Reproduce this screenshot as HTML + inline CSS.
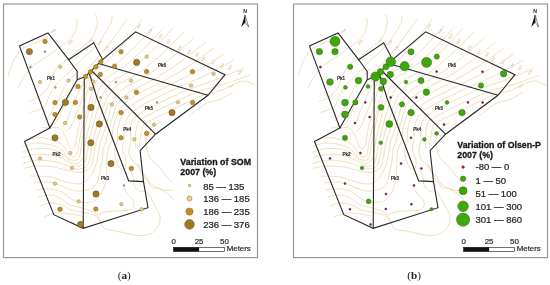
<!DOCTYPE html>
<html><head><meta charset="utf-8"><title>Figure</title>
<style>
html,body{margin:0;padding:0;background:#fff;}
body{width:550px;height:285px;overflow:hidden;position:relative;}
svg{display:block;position:absolute;left:0;top:0;}
</style></head><body>
<svg width="550" height="285" viewBox="0 0 550 285">
<rect width="550" height="285" fill="#fff"/>
<g transform="translate(0,0)">
<rect x="3.5" y="4" width="254" height="253.6" fill="#fff" stroke="#959595" stroke-width="1.15"/>
<g fill="none" stroke="#e3cd92" stroke-width="0.62">
<path d="M8.0,76.0 C8.7,74.0 10.5,67.5 12.0,64.0 C13.5,60.5 15.3,57.5 17.0,55.0 C18.7,52.5 19.5,50.8 22.0,49.0 C24.5,47.2 28.7,45.5 32.0,44.0 C35.3,42.5 39.3,41.5 42.0,40.0 C44.7,38.5 46.3,36.5 48.0,35.0 C49.7,33.5 51.3,31.7 52.0,31.0"/>
<path d="M77.0,18.0 C77.0,19.3 77.7,23.2 77.0,26.0 C76.3,28.8 74.5,32.5 73.0,35.0 C71.5,37.5 70.2,39.0 68.0,41.0 C65.8,43.0 63.2,44.7 60.0,47.0 C56.8,49.3 52.7,52.4 49.0,55.0 C45.3,57.6 41.2,60.1 38.0,62.4 C34.8,64.7 32.7,66.1 30.0,69.0 C27.3,71.9 24.0,76.8 22.0,80.0 C20.0,83.2 18.7,86.7 18.0,88.0"/>
<path d="M95.6,14.0 C95.9,15.3 97.5,19.0 97.4,22.0 C97.3,25.0 96.2,29.0 95.0,32.0 C93.8,35.0 92.5,37.2 90.0,40.0 C87.5,42.8 83.7,45.8 80.0,49.0 C76.3,52.2 71.7,56.2 68.0,59.0 C64.3,61.8 60.7,63.0 58.0,66.0 C55.3,69.0 53.7,73.4 52.0,77.0 C50.3,80.6 49.3,84.9 48.0,87.5 C46.7,90.1 45.7,90.9 44.0,92.6 C42.3,94.3 40.2,96.2 37.7,97.7 C35.2,99.2 30.3,100.9 28.8,101.5"/>
<path d="M112.0,16.0 C111.8,17.2 112.2,20.2 111.0,23.0 C109.8,25.8 106.8,30.0 105.0,33.0 C103.2,36.0 102.2,38.2 100.0,41.0 C97.8,43.8 95.0,47.0 92.0,50.0 C89.0,53.0 85.0,56.2 82.0,59.0 C79.0,61.8 77.0,64.0 74.0,67.0 C71.0,70.0 67.1,74.0 64.0,77.0 C60.9,80.0 57.4,82.8 55.5,85.0 C53.6,87.2 53.6,87.9 52.4,90.0 C51.2,92.1 49.7,95.1 48.5,97.7 C47.3,100.3 47.0,103.4 45.4,105.4 C43.8,107.4 41.6,108.6 39.0,109.8 C36.4,111.0 31.5,112.0 30.0,112.4"/>
<path d="M127.0,19.0 C125.8,20.7 122.5,25.5 120.0,29.0 C117.5,32.5 114.2,37.0 112.0,40.0 C109.8,43.0 109.0,44.5 107.0,47.0 C105.0,49.5 102.2,52.5 100.0,55.0 C97.8,57.5 96.7,59.2 94.0,62.0 C91.3,64.8 86.7,69.0 84.0,72.0 C81.3,75.0 79.6,77.8 78.0,80.0 C76.4,82.2 75.8,82.9 74.6,85.0 C73.4,87.1 72.1,90.0 70.8,92.6 C69.5,95.1 68.5,97.3 67.0,100.3 C65.5,103.3 63.7,107.0 62.0,110.5 C60.3,114.0 58.5,118.4 56.8,121.0 C55.1,123.6 52.8,125.2 52.0,126.0"/>
<path d="M80.0,68.0 C78.7,69.7 74.4,75.2 72.0,78.0 C69.6,80.8 67.2,83.0 65.7,85.0 C64.2,87.0 64.2,87.9 63.2,90.0 C62.2,92.1 60.9,94.9 59.4,97.7 C57.9,100.5 55.5,104.2 54.0,107.0 C52.5,109.8 52.2,112.0 50.5,114.3 C48.8,116.6 45.1,119.9 44.0,121.0"/>
<path d="M89.0,71.0 C88.3,72.5 86.3,77.2 85.0,80.0 C83.7,82.8 82.3,85.0 81.0,87.5 C79.7,90.0 78.5,92.5 77.2,95.2 C75.9,98.0 74.7,101.0 73.4,104.0 C72.1,107.0 70.6,110.2 69.5,113.0 C68.4,115.8 68.2,118.7 67.0,121.0 C65.8,123.3 62.8,126.0 62.0,127.0"/>
<path d="M92.0,69.0 C91.3,70.8 89.2,76.7 88.0,80.0 C86.8,83.3 85.6,86.0 84.8,88.8 C84.0,91.5 83.8,93.7 83.0,96.5 C82.2,99.3 80.9,102.4 79.7,105.4 C78.5,108.4 77.0,111.7 76.0,114.3 C75.0,116.9 74.4,118.7 73.4,121.0 C72.4,123.3 71.2,126.3 70.0,128.0 C68.8,129.7 66.7,130.5 66.0,131.0"/>
<path d="M142.0,19.4 C141.8,19.6 141.4,20.1 140.9,20.9 C140.3,21.6 139.6,22.6 138.7,23.9 C137.7,25.1 136.6,26.6 135.3,28.3 C134.0,30.1 132.4,32.3 130.8,34.3 C129.3,36.2 127.8,38.2 126.2,40.1 C124.7,42.0 123.1,43.9 121.5,45.8 C119.9,47.7 118.3,49.6 116.6,51.4 C114.9,53.3 113.1,55.2 111.6,56.9 C110.0,58.6 108.5,60.0 107.1,61.3 C105.7,62.7 104.3,63.8 103.1,64.8 C101.9,65.7 100.8,66.5 99.7,67.2 C98.7,67.8 97.8,67.6 96.9,68.5 C95.9,69.5 94.9,71.0 93.9,73.0 C92.9,75.0 91.8,77.5 90.8,80.5 C89.7,83.5 88.6,87.0 87.5,91.0 C86.4,95.0 85.1,100.5 84.1,104.6 C83.1,108.7 82.2,112.5 81.4,115.8 C80.6,119.1 79.9,122.1 79.3,124.6 C78.7,127.1 78.2,129.3 77.9,131.0 C77.5,132.7 77.3,133.8 77.1,135.0 C76.9,136.2 76.7,137.2 76.6,138.0 C76.4,138.8 76.3,139.5 76.2,140.0 C76.1,140.5 76.1,140.2 76.0,141.0 C75.9,141.8 76.2,143.2 75.6,144.6 C75.0,146.0 73.5,149.3 72.4,149.5 C71.3,149.7 70.0,147.6 69.0,146.0 C68.0,144.4 67.7,142.1 66.6,139.7 C65.5,137.3 64.1,133.5 62.6,131.5 C61.1,129.5 59.8,128.1 57.6,127.5 C55.4,126.9 52.2,128.0 49.5,128.0 C46.8,128.0 42.7,127.6 41.3,127.5"/>
<path d="M154.0,26.0 C153.8,26.2 153.4,26.7 152.8,27.4 C152.1,28.0 151.3,29.0 150.3,30.1 C149.3,31.2 148.0,32.6 146.6,34.2 C145.1,35.8 143.3,37.8 141.6,39.6 C140.0,41.4 138.3,43.2 136.6,45.0 C134.8,46.7 133.1,48.5 131.3,50.2 C129.6,51.9 127.8,53.6 126.0,55.2 C124.2,56.9 122.3,58.6 120.5,60.2 C118.8,61.7 117.1,63.1 115.4,64.3 C113.8,65.6 112.3,66.7 110.8,67.7 C109.3,68.7 107.9,69.6 106.6,70.3 C105.2,71.1 104.0,71.1 102.7,72.2 C101.5,73.2 100.2,74.8 99.0,76.7 C97.7,78.7 96.5,81.0 95.3,83.9 C94.1,86.7 92.9,90.0 91.7,93.7 C90.6,97.5 89.3,102.4 88.2,106.2 C87.2,110.1 86.2,113.5 85.4,116.6 C84.5,119.7 83.8,122.5 83.2,124.9 C82.6,127.3 82.0,129.3 81.6,131.0 C81.2,132.7 81.0,133.8 80.7,135.0 C80.4,136.2 80.2,137.2 80.0,138.0 C79.8,138.8 79.6,139.5 79.5,140.0 C79.4,140.5 79.7,138.9 79.3,141.0 C78.9,143.1 78.2,150.1 77.3,152.8 C76.4,155.5 75.4,156.6 74.0,157.0 C72.6,157.4 70.4,156.2 69.0,155.0 C67.6,153.8 67.1,151.4 65.8,149.5 C64.5,147.6 63.2,145.3 61.0,143.8 C58.8,142.3 56.3,141.6 52.7,140.5 C49.1,139.4 44.0,137.3 39.6,137.3 C35.2,137.3 28.7,140.0 26.5,140.5"/>
<path d="M163.0,28.6 C162.8,28.8 162.4,29.3 161.7,30.0 C161.1,30.6 160.3,31.5 159.2,32.7 C158.2,33.8 156.9,35.2 155.4,36.8 C154.0,38.3 152.1,40.4 150.4,42.2 C148.7,44.0 147.0,45.8 145.2,47.5 C143.5,49.3 141.7,51.0 139.9,52.7 C138.1,54.4 136.3,56.1 134.5,57.7 C132.7,59.4 130.8,61.1 128.9,62.6 C127.1,64.1 125.3,65.6 123.6,66.9 C121.8,68.2 120.1,69.4 118.4,70.5 C116.7,71.6 115.0,72.6 113.4,73.5 C111.7,74.4 110.1,74.7 108.6,75.8 C107.0,77.0 105.6,78.5 104.2,80.4 C102.8,82.4 101.5,84.6 100.3,87.3 C99.1,90.0 98.0,93.0 96.9,96.5 C95.8,99.9 94.8,104.4 93.9,107.9 C93.0,111.4 92.2,114.6 91.5,117.4 C90.7,120.3 90.1,122.9 89.5,125.1 C88.9,127.4 88.4,129.4 88.0,131.0 C87.6,132.6 87.3,133.8 87.0,135.0 C86.7,136.2 86.5,137.2 86.2,138.0 C86.0,138.8 85.9,139.5 85.8,140.0 C85.6,140.5 85.7,139.7 85.5,141.0 C85.3,142.3 85.1,144.9 84.6,148.0 C84.0,151.1 83.4,156.8 82.2,159.4 C81.0,162.0 79.2,163.1 77.3,163.5 C75.4,163.9 72.9,163.2 70.7,161.8 C68.5,160.4 67.2,157.4 64.2,155.3 C61.2,153.2 57.3,150.6 52.7,149.5 C48.1,148.4 41.4,148.3 36.4,148.7 C31.4,149.1 24.8,151.4 22.5,152.0"/>
<path d="M173.0,28.0 C172.8,28.2 172.3,28.7 171.7,29.5 C171.0,30.2 170.2,31.1 169.1,32.4 C168.0,33.6 166.7,35.0 165.1,36.7 C163.6,38.4 161.7,40.6 159.9,42.5 C158.1,44.5 156.3,46.3 154.5,48.2 C152.7,50.1 150.9,51.9 149.0,53.8 C147.1,55.6 145.3,57.4 143.3,59.2 C141.4,61.0 139.5,62.8 137.6,64.5 C135.6,66.1 133.7,67.7 131.8,69.1 C129.9,70.6 127.9,72.0 126.0,73.2 C124.1,74.5 122.1,75.6 120.2,76.6 C118.3,77.7 116.2,78.2 114.4,79.5 C112.6,80.7 110.9,82.3 109.3,84.2 C107.6,86.1 106.1,88.2 104.7,90.7 C103.3,93.2 102.1,96.1 100.9,99.2 C99.7,102.3 98.6,106.3 97.6,109.5 C96.7,112.7 95.8,115.6 95.0,118.3 C94.2,120.9 93.5,123.3 93.0,125.4 C92.4,127.5 91.9,129.4 91.5,131.0 C91.1,132.6 90.9,133.8 90.6,135.0 C90.4,136.2 90.1,137.2 90.0,138.0 C89.8,138.8 89.6,139.5 89.5,140.0 C89.4,140.5 89.7,138.9 89.3,141.0 C88.9,143.1 87.8,149.2 87.0,152.8 C86.2,156.4 85.9,160.4 84.6,162.6 C83.3,164.8 81.0,165.6 79.0,166.0 C77.0,166.4 74.9,166.1 72.4,165.0 C69.9,163.9 67.5,161.0 64.2,159.4 C60.9,157.8 57.3,156.1 52.7,155.3 C48.1,154.5 41.4,154.1 36.4,154.5 C31.4,154.9 24.8,157.2 22.5,157.7"/>
<path d="M184.0,32.0 C183.8,32.2 183.3,32.7 182.6,33.4 C181.9,34.1 181.0,35.1 179.8,36.2 C178.6,37.4 177.2,38.8 175.6,40.4 C174.0,42.1 171.9,44.2 170.0,46.1 C168.1,47.9 166.2,49.8 164.3,51.6 C162.4,53.4 160.4,55.2 158.4,56.9 C156.5,58.7 154.5,60.4 152.5,62.1 C150.4,63.9 148.4,65.6 146.4,67.2 C144.3,68.8 142.2,70.4 140.1,71.9 C138.0,73.3 135.8,74.7 133.6,76.1 C131.5,77.4 129.3,78.6 127.0,79.8 C124.8,81.0 122.4,81.8 120.2,83.1 C118.1,84.5 116.2,86.1 114.3,87.9 C112.5,89.7 110.9,91.8 109.3,94.2 C107.8,96.5 106.4,99.1 105.2,101.9 C103.9,104.8 102.9,108.3 101.9,111.2 C100.9,114.0 100.0,116.7 99.2,119.1 C98.4,121.5 97.7,123.7 97.0,125.7 C96.4,127.7 95.9,129.4 95.4,131.0 C95.0,132.6 94.7,133.8 94.4,135.0 C94.1,136.2 93.8,137.2 93.6,138.0 C93.4,138.8 93.2,139.5 93.1,140.0 C92.9,140.5 93.2,138.6 92.8,141.0 C92.4,143.4 91.2,150.6 90.4,154.5 C89.6,158.4 89.4,162.0 88.0,164.3 C86.6,166.6 84.5,167.7 82.2,168.4 C79.9,169.1 77.0,169.1 74.0,168.4 C71.0,167.7 67.8,165.5 64.2,164.3 C60.7,163.1 57.3,162.0 52.7,161.3 C48.1,160.6 41.4,159.8 36.4,160.2 C31.4,160.6 24.8,162.9 22.5,163.5"/>
<path d="M195.0,37.0 C194.8,37.2 194.3,37.7 193.5,38.3 C192.8,39.0 191.8,39.9 190.5,41.0 C189.3,42.1 187.8,43.4 186.1,45.0 C184.3,46.5 182.1,48.6 180.1,50.3 C178.1,52.1 176.1,53.8 174.1,55.5 C172.0,57.2 169.9,58.9 167.9,60.5 C165.8,62.2 163.7,63.8 161.6,65.4 C159.4,67.0 157.3,68.6 155.1,70.2 C152.9,71.7 150.7,73.2 148.4,74.7 C146.1,76.1 143.7,77.5 141.3,78.9 C138.9,80.3 136.4,81.7 133.9,83.0 C131.3,84.3 128.4,85.3 126.1,86.8 C123.7,88.2 121.6,89.8 119.8,91.6 C117.9,93.4 116.3,95.4 114.9,97.6 C113.6,99.8 112.4,102.1 111.5,104.7 C110.7,107.2 110.2,110.3 109.6,112.8 C109.0,115.3 108.4,117.7 107.8,119.9 C107.2,122.1 106.6,124.1 106.0,126.0 C105.5,127.8 104.9,129.5 104.4,131.0 C103.8,132.5 103.3,133.8 102.8,135.0 C102.4,136.2 102.0,137.2 101.7,138.0 C101.3,138.8 101.1,139.5 100.9,140.0 C100.7,140.5 100.8,139.2 100.5,141.0 C100.2,142.8 99.6,147.4 99.0,150.7 C98.4,154.0 97.9,157.6 97.0,161.0 C96.1,164.4 94.9,168.2 93.6,171.0 C92.3,173.8 90.6,176.2 89.0,178.0 C87.4,179.8 85.8,181.0 84.0,182.0 C82.2,183.0 81.0,184.0 78.0,184.0 C75.0,184.0 70.7,183.2 66.0,182.0 C61.3,180.8 56.0,178.0 50.0,177.0 C44.0,176.0 33.3,176.2 30.0,176.0"/>
<path d="M206.0,42.0 C205.7,42.2 205.2,42.6 204.4,43.3 C203.6,43.9 202.6,44.7 201.3,45.8 C200.0,46.8 198.4,48.1 196.5,49.5 C194.7,51.0 192.4,52.9 190.2,54.5 C188.1,56.2 186.0,57.8 183.8,59.4 C181.7,61.0 179.5,62.6 177.3,64.1 C175.1,65.7 172.9,67.2 170.7,68.7 C168.4,70.2 166.2,71.6 163.9,73.1 C161.6,74.6 159.2,76.0 156.7,77.5 C154.2,78.9 151.6,80.4 148.9,81.8 C146.3,83.3 143.5,84.7 140.7,86.1 C137.9,87.6 134.6,88.9 131.9,90.4 C129.3,91.9 126.9,93.6 124.8,95.4 C122.7,97.1 120.9,99.0 119.4,101.0 C117.8,103.0 116.5,105.2 115.5,107.4 C114.5,109.6 114.0,112.2 113.3,114.4 C112.6,116.7 112.0,118.7 111.4,120.7 C110.8,122.7 110.3,124.5 109.8,126.2 C109.3,128.0 108.9,129.5 108.5,131.0 C108.1,132.5 107.8,133.8 107.5,135.0 C107.2,136.2 107.0,137.2 106.8,138.0 C106.5,138.8 106.4,139.5 106.2,140.0 C106.1,140.5 106.5,139.4 106.0,141.0 C105.5,142.6 103.6,146.7 103.0,149.5 C102.4,152.3 103.1,154.1 102.6,157.7 C102.1,161.3 100.8,167.3 100.0,171.0 C99.2,174.7 99.0,177.3 98.0,180.0 C97.0,182.7 96.0,185.3 94.0,187.0 C92.0,188.7 89.0,189.3 86.0,190.0 C83.0,190.7 79.7,191.5 76.0,191.0 C72.3,190.5 68.3,188.5 64.0,187.0 C59.7,185.5 55.0,182.7 50.0,182.0 C45.0,181.3 36.7,182.8 34.0,183.0"/>
<path d="M214.0,48.0 C213.7,48.2 213.2,48.6 212.4,49.1 C211.6,49.7 210.6,50.5 209.3,51.4 C208.0,52.4 206.4,53.5 204.6,54.9 C202.7,56.2 200.4,57.9 198.3,59.5 C196.2,61.0 194.1,62.4 191.9,63.9 C189.8,65.3 187.6,66.7 185.4,68.1 C183.2,69.5 181.0,70.9 178.8,72.3 C176.6,73.6 174.5,74.9 172.1,76.2 C169.8,77.6 167.3,78.9 164.7,80.4 C162.1,81.8 159.3,83.2 156.5,84.7 C153.6,86.2 150.6,87.7 147.5,89.3 C144.4,90.8 140.7,92.4 137.8,94.0 C134.8,95.7 132.2,97.4 129.8,99.1 C127.5,100.8 125.5,102.6 123.7,104.5 C122.0,106.3 120.5,108.2 119.4,110.1 C118.2,112.1 117.6,114.2 116.8,116.1 C116.1,118.0 115.4,119.8 114.8,121.5 C114.3,123.3 113.8,124.9 113.4,126.5 C113.1,128.1 112.8,129.6 112.6,131.0 C112.4,132.4 112.4,133.8 112.4,135.0 C112.3,136.2 112.2,137.2 112.2,138.0 C112.1,138.8 112.1,139.5 112.1,140.0 C112.0,140.5 112.6,139.7 112.0,141.0 C111.4,142.3 109.3,145.3 108.5,148.0 C107.7,150.7 107.3,153.2 107.0,157.0 C106.7,160.8 106.9,167.2 106.7,171.0 C106.5,174.8 106.6,176.8 106.0,180.0 C105.4,183.2 104.3,187.0 103.0,190.0 C101.7,193.0 100.2,196.0 98.0,198.0 C95.8,200.0 93.3,201.3 90.0,202.0 C86.7,202.7 81.3,202.7 78.0,202.0 C74.7,201.3 72.7,199.7 70.0,198.0 C67.3,196.3 65.3,193.5 62.0,192.0 C58.7,190.5 54.3,189.3 50.0,189.0 C45.7,188.7 38.3,189.8 36.0,190.0"/>
<path d="M244.0,68.0 C243.7,68.1 243.1,68.4 242.3,68.8 C241.4,69.1 240.2,69.6 238.8,70.3 C237.3,70.9 235.6,71.7 233.5,72.5 C231.5,73.4 228.9,74.6 226.5,75.6 C224.2,76.6 221.8,77.5 219.5,78.4 C217.1,79.4 214.7,80.2 212.3,81.1 C209.9,82.0 207.6,82.8 205.1,83.6 C202.7,84.4 200.5,85.0 197.9,85.9 C195.2,86.9 192.4,88.0 189.3,89.2 C186.2,90.5 182.9,91.9 179.3,93.5 C175.8,95.1 172.0,96.8 168.0,98.8 C164.0,100.7 159.1,103.0 155.3,105.0 C151.6,106.9 148.3,108.7 145.4,110.3 C142.6,111.9 140.2,113.4 138.3,114.8 C136.4,116.1 134.9,117.3 133.9,118.3 C132.9,119.4 132.8,120.0 132.4,121.0 C131.9,121.9 131.5,122.9 131.2,124.0 C130.9,125.1 130.7,126.2 130.6,127.3 C130.4,128.5 130.4,129.7 130.4,131.0 C130.4,132.3 130.6,133.8 130.6,135.0 C130.7,136.2 130.8,137.2 130.8,138.0 C130.9,138.8 130.9,139.5 130.9,140.0 C131.0,140.5 131.4,139.2 131.0,141.0 C130.6,142.8 128.9,147.8 128.8,150.7 C128.8,153.6 129.3,156.1 130.7,158.4 C132.1,160.7 135.3,162.4 137.0,164.7 C138.7,167.0 139.5,170.1 141.0,172.0 C142.5,173.9 144.3,174.0 146.0,176.0 C147.7,178.0 148.2,181.7 151.0,184.0 C153.8,186.3 159.3,189.0 163.0,190.0 C166.7,191.0 171.3,190.0 173.0,190.0"/>
<path d="M250.0,75.0 C249.7,75.1 249.2,75.3 248.3,75.6 C247.5,75.9 246.4,76.3 245.0,76.8 C243.6,77.4 241.9,78.0 239.9,78.7 C237.9,79.4 235.4,80.4 233.2,81.2 C230.9,82.0 228.7,82.7 226.4,83.5 C224.1,84.2 221.9,84.9 219.6,85.6 C217.3,86.2 215.0,86.9 212.7,87.5 C210.4,88.1 208.3,88.4 205.7,89.2 C203.1,90.0 200.3,91.0 197.1,92.2 C193.9,93.4 190.5,94.8 186.8,96.5 C183.1,98.1 179.1,99.9 174.8,101.9 C170.5,103.9 165.2,106.6 161.2,108.6 C157.1,110.6 153.6,112.4 150.7,114.0 C147.7,115.6 145.2,117.0 143.3,118.2 C141.4,119.3 140.0,120.3 139.1,121.0 C138.2,121.8 138.4,122.0 138.1,122.6 C137.7,123.3 137.4,124.0 137.2,124.8 C136.9,125.6 136.7,126.6 136.4,127.6 C136.2,128.6 136.0,129.8 135.9,131.0 C135.7,132.2 135.6,133.8 135.4,135.0 C135.3,136.2 135.2,137.2 135.1,138.0 C135.0,138.8 135.0,139.5 134.9,140.0 C134.9,140.5 134.6,139.7 134.8,141.0 C135.0,142.3 135.8,146.8 136.0,148.0"/>
<path d="M256.0,85.5 C255.9,85.5 255.8,85.4 255.6,85.3 C255.4,85.2 255.2,85.1 254.9,84.9 C254.6,84.8 254.2,84.6 253.8,84.4 C253.3,84.2 252.8,83.9 252.2,83.6 C251.7,83.4 251.2,83.2 250.7,82.9 C250.2,82.7 249.6,82.5 249.1,82.3 C248.5,82.1 247.9,81.9 247.4,81.8 C246.8,81.6 246.2,81.4 245.6,81.2 C245.0,81.1 244.5,81.1 243.9,81.0 C243.3,81.0 242.7,81.0 242.1,81.1 C241.5,81.2 241.0,81.3 240.4,81.4 C239.8,81.6 239.2,81.8 238.6,82.1 C238.0,82.3 237.4,82.6 236.8,82.8 C236.1,83.1 235.4,83.4 234.8,83.8 C234.1,84.1 233.4,84.5 232.6,84.9 C231.9,85.3 231.1,85.7 230.4,86.1 C229.6,86.5 228.8,86.9 228.0,87.3 C227.2,87.7 226.4,88.1 225.5,88.4 C224.6,88.8 223.8,89.2 222.9,89.5 C222.0,89.8 221.1,90.2 220.1,90.5 C219.2,90.8 218.2,91.1 217.3,91.4 C216.3,91.7 215.4,91.9 214.4,92.2 C213.4,92.4 212.4,92.7 211.4,92.9 C210.3,93.1 209.8,93.0 208.2,93.4 C206.7,93.9 204.7,94.6 202.3,95.7 C199.8,96.7 196.8,98.0 193.4,99.5 C190.0,101.1 186.0,103.0 181.6,105.1 C177.2,107.2 171.3,110.1 167.0,112.3 C162.7,114.4 159.0,116.2 155.9,117.8 C152.8,119.3 150.3,120.6 148.3,121.6 C146.4,122.6 145.0,123.3 144.3,123.8 C143.5,124.2 143.9,124.0 143.8,124.3 C143.6,124.6 143.4,125.0 143.2,125.6 C143.0,126.2 142.7,127.0 142.5,127.9 C142.3,128.8 142.0,129.8 141.8,131.0 C141.5,132.2 141.2,133.8 140.9,135.0 C140.7,136.2 140.5,137.2 140.3,138.0 C140.1,138.8 140.0,139.5 139.9,140.0 C139.8,140.5 139.8,139.8 139.7,141.0 C139.6,142.2 139.5,146.0 139.5,147.0"/>
<path d="M224.0,54.0 C223.7,54.2 223.2,54.5 222.4,55.0 C221.6,55.6 220.5,56.2 219.1,57.1 C217.8,58.0 216.1,59.0 214.2,60.2 C212.3,61.4 209.9,63.0 207.7,64.4 C205.5,65.7 203.3,67.0 201.1,68.4 C198.9,69.7 196.7,70.9 194.4,72.2 C192.2,73.4 189.9,74.6 187.6,75.8 C185.3,77.0 183.2,78.1 180.7,79.3 C178.3,80.6 175.7,81.9 172.9,83.3 C170.1,84.6 167.2,86.1 164.1,87.6 C161.0,89.2 157.7,90.8 154.3,92.4 C150.9,94.1 146.9,96.0 143.6,97.7 C140.4,99.4 137.5,101.1 135.0,102.8 C132.4,104.5 130.2,106.2 128.4,107.9 C126.5,109.6 125.0,111.2 123.8,112.8 C122.6,114.5 122.0,116.1 121.3,117.7 C120.5,119.3 119.9,120.8 119.4,122.4 C118.9,123.9 118.5,125.3 118.1,126.8 C117.8,128.2 117.6,129.6 117.5,131.0 C117.4,132.4 117.6,133.8 117.6,135.0 C117.6,136.2 117.6,137.2 117.6,138.0 C117.6,138.8 117.6,139.5 117.6,140.0 C117.6,140.5 117.9,140.1 117.6,141.0 C117.3,141.9 116.0,143.3 115.5,145.6 C115.0,147.8 114.5,151.5 114.8,154.5 C115.1,157.5 116.4,161.1 117.4,163.5 C118.4,165.9 119.7,168.2 121.0,169.0 C122.3,169.8 124.2,170.0 125.0,168.5 C125.8,167.0 126.4,162.9 126.0,160.0 C125.6,157.1 123.0,153.5 122.5,151.0 C122.0,148.5 122.5,146.7 122.8,145.0 C123.1,143.3 124.0,141.8 124.2,141.0 C124.4,140.2 124.2,140.5 124.2,140.0 C124.2,139.5 124.2,138.8 124.2,138.0 C124.2,137.2 124.1,136.2 124.1,135.0 C124.1,133.8 124.0,132.3 124.1,131.0 C124.1,129.7 124.3,128.4 124.5,127.1 C124.8,125.8 125.1,124.5 125.5,123.2 C125.9,121.9 126.4,120.6 127.0,119.3 C127.5,118.1 127.9,116.9 129.0,115.6 C130.0,114.2 131.5,112.8 133.4,111.3 C135.2,109.8 137.5,108.2 140.2,106.6 C142.9,104.9 146.0,103.2 149.5,101.3 C153.0,99.5 157.5,97.4 161.2,95.6 C164.9,93.8 168.4,92.1 171.7,90.5 C175.0,89.0 178.1,87.5 181.1,86.2 C184.0,84.8 186.8,83.6 189.3,82.4 C191.9,81.3 194.0,80.4 196.4,79.4 C198.7,78.4 201.1,77.3 203.4,76.2 C205.7,75.1 208.0,74.0 210.3,72.8 C212.6,71.7 214.9,70.5 217.1,69.3 C219.4,68.1 221.9,66.7 223.9,65.6 C225.8,64.5 227.5,63.6 228.9,62.8 C230.3,62.0 231.5,61.4 232.3,60.9 C233.2,60.5 233.7,60.2 234.0,60.0"/>
<path d="M93.0,100.0 C92.2,102.0 89.8,107.8 88.5,112.0 C87.2,116.2 86.6,120.2 85.5,125.0 C84.4,129.8 83.0,135.8 82.0,141.0 C81.0,146.2 80.8,152.8 79.7,156.0 C78.6,159.2 77.4,159.8 75.6,160.2 C73.8,160.6 71.2,160.1 69.0,158.6 C66.8,157.1 65.3,153.4 62.6,151.2 C59.9,149.0 57.1,146.9 52.7,145.5 C48.3,144.1 41.3,142.9 36.4,143.0 C31.5,143.1 25.5,145.8 23.3,146.3"/>
<path d="M109.0,102.0 C108.2,104.0 105.7,110.2 104.5,114.0 C103.3,117.8 103.2,120.5 101.8,125.0 C100.4,129.5 97.7,135.8 96.3,141.0 C94.9,146.2 94.4,151.8 93.6,156.0 C92.8,160.2 92.5,163.5 91.2,166.0 C89.9,168.5 87.7,169.9 85.5,171.0 C83.3,172.1 80.5,172.5 78.0,172.5 C75.5,172.5 73.3,171.6 70.7,171.0 C68.1,170.4 65.6,169.9 62.6,169.2 C59.6,168.5 57.1,167.2 52.7,166.7 C48.3,166.2 41.3,165.7 36.4,166.0 C31.5,166.3 25.5,168.0 23.3,168.4"/>
<path d="M160.0,122.5 C158.8,123.2 155.0,125.1 153.0,127.0 C151.0,128.9 149.2,131.7 148.0,134.0 C146.8,136.3 146.1,139.0 145.8,141.0 C145.5,143.0 145.8,143.8 146.2,146.0 C146.6,148.2 147.3,151.8 148.5,154.5 C149.7,157.2 151.7,159.9 153.6,162.0 C155.5,164.1 158.1,165.1 160.0,167.3 C161.9,169.5 163.0,172.6 165.0,175.0 C167.0,177.4 170.8,180.8 172.0,182.0"/>
<path d="M232.0,92.5 C230.0,93.7 224.0,97.8 220.0,99.5 C216.0,101.2 211.7,100.9 208.0,102.5 C204.3,104.1 201.2,106.8 198.0,109.0 C194.8,111.2 190.5,114.8 189.0,116.0"/>
<path d="M128.0,167.0 C128.5,167.8 130.1,170.2 131.0,172.0 C131.9,173.8 132.8,175.8 133.3,178.0 C133.8,180.2 133.1,182.8 134.0,185.0 C134.9,187.2 137.2,190.0 139.0,191.0 C140.8,192.0 143.3,190.3 145.0,191.0 C146.7,191.7 147.9,193.4 149.3,195.4 C150.7,197.4 152.2,200.4 153.6,203.0 C155.0,205.6 156.9,208.7 158.0,211.0 C159.1,213.3 159.8,214.8 160.0,217.0 C160.2,219.2 160.2,221.5 159.0,224.0 C157.8,226.5 155.7,230.1 153.0,232.0 C150.3,233.9 147.0,235.3 143.0,235.6 C139.0,235.9 133.3,234.8 129.0,234.0 C124.7,233.2 121.0,231.8 117.0,231.0 C113.0,230.2 107.7,230.5 105.0,229.0 C102.3,227.5 102.3,224.4 101.0,222.0 C99.7,219.6 98.8,216.4 97.0,214.5 C95.2,212.6 92.5,211.6 90.0,210.5 C87.5,209.4 85.3,208.9 82.0,208.0 C78.7,207.1 73.7,206.7 70.0,205.0 C66.3,203.3 63.3,199.7 60.0,198.0 C56.7,196.3 53.7,195.2 50.0,195.0 C46.3,194.8 40.0,196.7 38.0,197.0"/>
<path d="M138.0,164.0 C138.7,165.3 140.8,169.7 142.0,172.0 C143.2,174.3 143.8,176.1 145.0,178.0 C146.2,179.9 148.1,182.0 149.3,183.7 C150.5,185.4 150.8,187.3 152.2,188.0 C153.6,188.7 155.8,187.2 158.0,188.0 C160.2,188.8 162.6,190.6 165.3,192.5 C168.0,194.4 172.6,198.5 174.0,199.7"/>
<path d="M123.0,186.6 C123.8,187.8 125.8,191.8 127.5,194.0 C129.2,196.2 131.9,198.0 133.0,200.0 C134.1,202.0 134.7,204.3 134.0,206.0 C133.3,207.7 132.2,209.2 129.0,210.0 C125.8,210.8 119.0,210.7 115.0,211.0 C111.0,211.3 107.7,211.3 105.0,212.0 C102.3,212.7 100.0,214.5 99.0,215.0"/>
<path d="M40.0,206.0 C41.7,205.5 46.3,203.2 50.0,203.0 C53.7,202.8 58.3,203.8 62.0,205.0 C65.7,206.2 68.0,208.7 72.0,210.0 C76.0,211.3 82.0,212.0 86.0,213.0 C90.0,214.0 93.7,214.5 96.0,216.0 C98.3,217.5 99.3,221.0 100.0,222.0"/>
<path d="M44.0,217.0 C46.0,216.3 51.7,213.5 56.0,213.0 C60.3,212.5 65.7,213.5 70.0,214.0 C74.3,214.5 80.0,215.7 82.0,216.0"/>
</g>
<g font-family="Liberation Sans, sans-serif" font-size="3.2" fill="#cfa352" stroke="#fff" stroke-width="0.9" paint-order="stroke" text-anchor="middle">
<text transform="translate(53.4,30.9) rotate(-40)" y="1.1">544</text>
<text transform="translate(70.3,42.1) rotate(-50)" y="1.1">543</text>
<text transform="translate(89.9,40.8) rotate(-45)" y="1.1">540</text>
<text transform="translate(99.8,42.4) rotate(-50)" y="1.1">539</text>
<text transform="translate(106.2,48.1) rotate(-50)" y="1.1">538</text>
<text transform="translate(139,26) rotate(-55)" y="1.1">537</text>
<text transform="translate(150,31) rotate(-55)" y="1.1">536</text>
<text transform="translate(160.5,36.5) rotate(-58)" y="1.1">535</text>
<text transform="translate(168.5,41.5) rotate(-60)" y="1.1">534</text>
<text transform="translate(179.5,48) rotate(-60)" y="1.1">533</text>
<text transform="translate(189,52) rotate(-62)" y="1.1">532</text>
<text transform="translate(197,54.5) rotate(-62)" y="1.1">531</text>
<text transform="translate(203,59) rotate(-62)" y="1.1">530</text>
<text transform="translate(213,62) rotate(-60)" y="1.1">529</text>
<text transform="translate(222,66) rotate(-58)" y="1.1">528</text>
<text transform="translate(230,67.5) rotate(-50)" y="1.1">527</text>
<text transform="translate(240,72) rotate(-45)" y="1.1">525</text>
<text transform="translate(231,85.8) rotate(-30)" y="1.1">521</text>
</g>
<g fill="none" stroke="#262626" stroke-width="1.1" stroke-linejoin="miter">
<path d="M19.4,45.9 L48,33 L68.65,59.7 L93.7,42.8 L102.6,59.7 L135.6,31.8 L225,74.7 L208,95.3 L155.5,134.2 L140.1,150.7 L143.5,181.6 L148,207.7 L83.2,228.3 L53.8,214.7 L24.5,141.4 L49.9,128.1 Z"/>
<path d="M68.65,59.7 L77.2,71.5 L77.2,79.7 L49.9,128.1"/>
<path d="M77.2,79.7 L85.5,76.5 L102.6,59.7"/>
<path d="M84.3,77 L83.2,228.3"/>
<path d="M89.3,73.5 L97,98 L128.7,180.9 L143.5,181.6"/>
<path d="M92,71 L155.5,134.2"/>
<path d="M98.5,63.5 L208,95.3"/>
</g>
<g font-family="Liberation Sans, sans-serif" font-weight="bold" font-size="4.5" fill="#1a1a1a" stroke="#1a1a1a" stroke-width="0.08" text-anchor="middle">
<text x="51" y="79.7">Pk1</text>
<text x="56.5" y="155.5">Pk2</text>
<text x="105" y="180.2">Pk3</text>
<text x="127.2" y="131">Pk4</text>
<text x="149" y="110">Pk5</text>
<text x="162" y="66.5">Pk6</text>
</g>
<g stroke-width="0.5">
<circle cx="29.4" cy="51.6" r="3.15" fill="#a07a22" stroke="#64491a"/>
<circle cx="45" cy="41.4" r="2.25" fill="#c48e22" stroke="#86601c"/>
<circle cx="45" cy="51.6" r="0.95" fill="#b9a57c" stroke="#857552"/>
<circle cx="30.4" cy="67" r="0.95" fill="#b9a57c" stroke="#857552"/>
<circle cx="60.2" cy="66.8" r="1.65" fill="#f0cf84" stroke="#8f6f3a"/>
<circle cx="40" cy="82" r="1.65" fill="#f0cf84" stroke="#8f6f3a"/>
<circle cx="68.5" cy="80.6" r="1.65" fill="#f0cf84" stroke="#8f6f3a"/>
<circle cx="55.4" cy="87.4" r="0.95" fill="#b9a57c" stroke="#857552"/>
<circle cx="78" cy="86.5" r="2.25" fill="#c48e22" stroke="#86601c"/>
<circle cx="55" cy="102.6" r="2.25" fill="#c48e22" stroke="#86601c"/>
<circle cx="65.4" cy="102.4" r="3.15" fill="#a07a22" stroke="#64491a"/>
<circle cx="75.4" cy="102.4" r="2.25" fill="#c48e22" stroke="#86601c"/>
<circle cx="85.5" cy="76.6" r="2.25" fill="#c48e22" stroke="#86601c"/>
<circle cx="90.5" cy="71.8" r="2.25" fill="#c48e22" stroke="#86601c"/>
<circle cx="95.9" cy="66.8" r="2.25" fill="#c48e22" stroke="#86601c"/>
<circle cx="100.8" cy="61.8" r="2.25" fill="#c48e22" stroke="#86601c"/>
<circle cx="100.3" cy="74.5" r="2.25" fill="#c48e22" stroke="#86601c"/>
<circle cx="93.3" cy="81.4" r="1.65" fill="#f0cf84" stroke="#8f6f3a"/>
<circle cx="91" cy="88.8" r="1.65" fill="#f0cf84" stroke="#8f6f3a"/>
<circle cx="100.6" cy="97.4" r="0.95" fill="#b9a57c" stroke="#857552"/>
<circle cx="91" cy="107.4" r="3.15" fill="#a07a22" stroke="#64491a"/>
<circle cx="121" cy="51.8" r="2.25" fill="#c48e22" stroke="#86601c"/>
<circle cx="146.8" cy="56.6" r="1.65" fill="#f0cf84" stroke="#8f6f3a"/>
<circle cx="136.6" cy="62.4" r="3.15" fill="#a07a22" stroke="#64491a"/>
<circle cx="146.6" cy="71.6" r="2.25" fill="#c48e22" stroke="#86601c"/>
<circle cx="192.5" cy="71.7" r="2.25" fill="#c48e22" stroke="#86601c"/>
<circle cx="213.6" cy="73.8" r="1.65" fill="#f0cf84" stroke="#8f6f3a"/>
<circle cx="191" cy="85.5" r="1.65" fill="#f0cf84" stroke="#8f6f3a"/>
<circle cx="114.6" cy="66.2" r="2.25" fill="#c48e22" stroke="#86601c"/>
<circle cx="116" cy="82.1" r="0.95" fill="#b9a57c" stroke="#857552"/>
<circle cx="131" cy="80.6" r="1.65" fill="#f0cf84" stroke="#8f6f3a"/>
<circle cx="136.4" cy="92.2" r="2.25" fill="#c48e22" stroke="#86601c"/>
<circle cx="126.4" cy="97.4" r="1.65" fill="#f0cf84" stroke="#8f6f3a"/>
<circle cx="112" cy="104.3" r="1.65" fill="#f0cf84" stroke="#8f6f3a"/>
<circle cx="157" cy="102.4" r="0.95" fill="#b9a57c" stroke="#857552"/>
<circle cx="178" cy="102.4" r="1.65" fill="#f0cf84" stroke="#8f6f3a"/>
<circle cx="192.6" cy="102.5" r="2.25" fill="#c48e22" stroke="#86601c"/>
<circle cx="55" cy="114.5" r="2.25" fill="#c48e22" stroke="#86601c"/>
<circle cx="79.6" cy="117" r="2.25" fill="#c48e22" stroke="#86601c"/>
<circle cx="65" cy="123" r="1.65" fill="#f0cf84" stroke="#8f6f3a"/>
<circle cx="99.3" cy="124" r="3.15" fill="#a07a22" stroke="#64491a"/>
<circle cx="55" cy="137.8" r="3.15" fill="#a07a22" stroke="#64491a"/>
<circle cx="90.8" cy="142.8" r="3.15" fill="#a07a22" stroke="#64491a"/>
<circle cx="70.4" cy="153" r="1.65" fill="#f0cf84" stroke="#8f6f3a"/>
<circle cx="121" cy="112.6" r="2.25" fill="#c48e22" stroke="#86601c"/>
<circle cx="121" cy="137.8" r="2.25" fill="#c48e22" stroke="#86601c"/>
<circle cx="134.4" cy="139.4" r="1.65" fill="#f0cf84" stroke="#8f6f3a"/>
<circle cx="146.6" cy="133.4" r="2.25" fill="#c48e22" stroke="#86601c"/>
<circle cx="154" cy="124.6" r="1.65" fill="#f0cf84" stroke="#8f6f3a"/>
<circle cx="172" cy="112.6" r="3.15" fill="#a07a22" stroke="#64491a"/>
<circle cx="40" cy="158.4" r="1.65" fill="#f0cf84" stroke="#8f6f3a"/>
<circle cx="72" cy="168" r="1.65" fill="#f0cf84" stroke="#8f6f3a"/>
<circle cx="55" cy="183.6" r="1.65" fill="#f0cf84" stroke="#8f6f3a"/>
<circle cx="78.6" cy="201.4" r="1.65" fill="#f0cf84" stroke="#8f6f3a"/>
<circle cx="96" cy="194" r="3.15" fill="#a07a22" stroke="#64491a"/>
<circle cx="111" cy="163.6" r="3.15" fill="#a07a22" stroke="#64491a"/>
<circle cx="131.4" cy="168.4" r="2.25" fill="#c48e22" stroke="#86601c"/>
<circle cx="124" cy="185.4" r="0.95" fill="#b9a57c" stroke="#857552"/>
<circle cx="121.4" cy="204.2" r="1.65" fill="#f0cf84" stroke="#8f6f3a"/>
<circle cx="60" cy="209.2" r="2.25" fill="#c48e22" stroke="#86601c"/>
<circle cx="95.8" cy="209" r="2.25" fill="#c48e22" stroke="#86601c"/>
<circle cx="80.6" cy="224.4" r="3.15" fill="#a07a22" stroke="#64491a"/>
<circle cx="141.5" cy="209.2" r="1.65" fill="#f0cf84" stroke="#8f6f3a"/>
</g>
<text x="245" y="13.4" font-family="Liberation Sans, sans-serif" font-weight="bold" font-size="5.2" fill="#222" text-anchor="middle">N</text>
<path d="M245,14.8 L241.2,26.9 L245.3,22.5 Z" fill="#111"/>
<path d="M245,14.8 L248.7,26.9 L245.3,22.5 Z" fill="#fff" stroke="#111" stroke-width="0.5"/>
<rect x="173.6" y="247.3" width="50.9" height="4.2" fill="#fff" stroke="#111" stroke-width="0.6"/>
<rect x="173.6" y="247.3" width="25.5" height="4.2" fill="#111"/>
<g font-family="Liberation Sans, sans-serif" font-size="7.9" fill="#222" stroke="#222" stroke-width="0.18">
<text x="173.6" y="243.7" text-anchor="middle">0</text><text x="199.1" y="243.7" text-anchor="middle">25</text><text x="224.5" y="243.7" text-anchor="middle">50</text>
<text x="226.7" y="251.4">Meters</text></g>
</g>
<g transform="translate(290,0)">
<rect x="3.5" y="4" width="254" height="253.6" fill="#fff" stroke="#959595" stroke-width="1.15"/>
<g fill="none" stroke="#e3cd92" stroke-width="0.62">
<path d="M8.0,76.0 C8.7,74.0 10.5,67.5 12.0,64.0 C13.5,60.5 15.3,57.5 17.0,55.0 C18.7,52.5 19.5,50.8 22.0,49.0 C24.5,47.2 28.7,45.5 32.0,44.0 C35.3,42.5 39.3,41.5 42.0,40.0 C44.7,38.5 46.3,36.5 48.0,35.0 C49.7,33.5 51.3,31.7 52.0,31.0"/>
<path d="M77.0,18.0 C77.0,19.3 77.7,23.2 77.0,26.0 C76.3,28.8 74.5,32.5 73.0,35.0 C71.5,37.5 70.2,39.0 68.0,41.0 C65.8,43.0 63.2,44.7 60.0,47.0 C56.8,49.3 52.7,52.4 49.0,55.0 C45.3,57.6 41.2,60.1 38.0,62.4 C34.8,64.7 32.7,66.1 30.0,69.0 C27.3,71.9 24.0,76.8 22.0,80.0 C20.0,83.2 18.7,86.7 18.0,88.0"/>
<path d="M95.6,14.0 C95.9,15.3 97.5,19.0 97.4,22.0 C97.3,25.0 96.2,29.0 95.0,32.0 C93.8,35.0 92.5,37.2 90.0,40.0 C87.5,42.8 83.7,45.8 80.0,49.0 C76.3,52.2 71.7,56.2 68.0,59.0 C64.3,61.8 60.7,63.0 58.0,66.0 C55.3,69.0 53.7,73.4 52.0,77.0 C50.3,80.6 49.3,84.9 48.0,87.5 C46.7,90.1 45.7,90.9 44.0,92.6 C42.3,94.3 40.2,96.2 37.7,97.7 C35.2,99.2 30.3,100.9 28.8,101.5"/>
<path d="M112.0,16.0 C111.8,17.2 112.2,20.2 111.0,23.0 C109.8,25.8 106.8,30.0 105.0,33.0 C103.2,36.0 102.2,38.2 100.0,41.0 C97.8,43.8 95.0,47.0 92.0,50.0 C89.0,53.0 85.0,56.2 82.0,59.0 C79.0,61.8 77.0,64.0 74.0,67.0 C71.0,70.0 67.1,74.0 64.0,77.0 C60.9,80.0 57.4,82.8 55.5,85.0 C53.6,87.2 53.6,87.9 52.4,90.0 C51.2,92.1 49.7,95.1 48.5,97.7 C47.3,100.3 47.0,103.4 45.4,105.4 C43.8,107.4 41.6,108.6 39.0,109.8 C36.4,111.0 31.5,112.0 30.0,112.4"/>
<path d="M127.0,19.0 C125.8,20.7 122.5,25.5 120.0,29.0 C117.5,32.5 114.2,37.0 112.0,40.0 C109.8,43.0 109.0,44.5 107.0,47.0 C105.0,49.5 102.2,52.5 100.0,55.0 C97.8,57.5 96.7,59.2 94.0,62.0 C91.3,64.8 86.7,69.0 84.0,72.0 C81.3,75.0 79.6,77.8 78.0,80.0 C76.4,82.2 75.8,82.9 74.6,85.0 C73.4,87.1 72.1,90.0 70.8,92.6 C69.5,95.1 68.5,97.3 67.0,100.3 C65.5,103.3 63.7,107.0 62.0,110.5 C60.3,114.0 58.5,118.4 56.8,121.0 C55.1,123.6 52.8,125.2 52.0,126.0"/>
<path d="M80.0,68.0 C78.7,69.7 74.4,75.2 72.0,78.0 C69.6,80.8 67.2,83.0 65.7,85.0 C64.2,87.0 64.2,87.9 63.2,90.0 C62.2,92.1 60.9,94.9 59.4,97.7 C57.9,100.5 55.5,104.2 54.0,107.0 C52.5,109.8 52.2,112.0 50.5,114.3 C48.8,116.6 45.1,119.9 44.0,121.0"/>
<path d="M89.0,71.0 C88.3,72.5 86.3,77.2 85.0,80.0 C83.7,82.8 82.3,85.0 81.0,87.5 C79.7,90.0 78.5,92.5 77.2,95.2 C75.9,98.0 74.7,101.0 73.4,104.0 C72.1,107.0 70.6,110.2 69.5,113.0 C68.4,115.8 68.2,118.7 67.0,121.0 C65.8,123.3 62.8,126.0 62.0,127.0"/>
<path d="M92.0,69.0 C91.3,70.8 89.2,76.7 88.0,80.0 C86.8,83.3 85.6,86.0 84.8,88.8 C84.0,91.5 83.8,93.7 83.0,96.5 C82.2,99.3 80.9,102.4 79.7,105.4 C78.5,108.4 77.0,111.7 76.0,114.3 C75.0,116.9 74.4,118.7 73.4,121.0 C72.4,123.3 71.2,126.3 70.0,128.0 C68.8,129.7 66.7,130.5 66.0,131.0"/>
<path d="M142.0,19.4 C141.8,19.6 141.4,20.1 140.9,20.9 C140.3,21.6 139.6,22.6 138.7,23.9 C137.7,25.1 136.6,26.6 135.3,28.3 C134.0,30.1 132.4,32.3 130.8,34.3 C129.3,36.2 127.8,38.2 126.2,40.1 C124.7,42.0 123.1,43.9 121.5,45.8 C119.9,47.7 118.3,49.6 116.6,51.4 C114.9,53.3 113.1,55.2 111.6,56.9 C110.0,58.6 108.5,60.0 107.1,61.3 C105.7,62.7 104.3,63.8 103.1,64.8 C101.9,65.7 100.8,66.5 99.7,67.2 C98.7,67.8 97.8,67.6 96.9,68.5 C95.9,69.5 94.9,71.0 93.9,73.0 C92.9,75.0 91.8,77.5 90.8,80.5 C89.7,83.5 88.6,87.0 87.5,91.0 C86.4,95.0 85.1,100.5 84.1,104.6 C83.1,108.7 82.2,112.5 81.4,115.8 C80.6,119.1 79.9,122.1 79.3,124.6 C78.7,127.1 78.2,129.3 77.9,131.0 C77.5,132.7 77.3,133.8 77.1,135.0 C76.9,136.2 76.7,137.2 76.6,138.0 C76.4,138.8 76.3,139.5 76.2,140.0 C76.1,140.5 76.1,140.2 76.0,141.0 C75.9,141.8 76.2,143.2 75.6,144.6 C75.0,146.0 73.5,149.3 72.4,149.5 C71.3,149.7 70.0,147.6 69.0,146.0 C68.0,144.4 67.7,142.1 66.6,139.7 C65.5,137.3 64.1,133.5 62.6,131.5 C61.1,129.5 59.8,128.1 57.6,127.5 C55.4,126.9 52.2,128.0 49.5,128.0 C46.8,128.0 42.7,127.6 41.3,127.5"/>
<path d="M154.0,26.0 C153.8,26.2 153.4,26.7 152.8,27.4 C152.1,28.0 151.3,29.0 150.3,30.1 C149.3,31.2 148.0,32.6 146.6,34.2 C145.1,35.8 143.3,37.8 141.6,39.6 C140.0,41.4 138.3,43.2 136.6,45.0 C134.8,46.7 133.1,48.5 131.3,50.2 C129.6,51.9 127.8,53.6 126.0,55.2 C124.2,56.9 122.3,58.6 120.5,60.2 C118.8,61.7 117.1,63.1 115.4,64.3 C113.8,65.6 112.3,66.7 110.8,67.7 C109.3,68.7 107.9,69.6 106.6,70.3 C105.2,71.1 104.0,71.1 102.7,72.2 C101.5,73.2 100.2,74.8 99.0,76.7 C97.7,78.7 96.5,81.0 95.3,83.9 C94.1,86.7 92.9,90.0 91.7,93.7 C90.6,97.5 89.3,102.4 88.2,106.2 C87.2,110.1 86.2,113.5 85.4,116.6 C84.5,119.7 83.8,122.5 83.2,124.9 C82.6,127.3 82.0,129.3 81.6,131.0 C81.2,132.7 81.0,133.8 80.7,135.0 C80.4,136.2 80.2,137.2 80.0,138.0 C79.8,138.8 79.6,139.5 79.5,140.0 C79.4,140.5 79.7,138.9 79.3,141.0 C78.9,143.1 78.2,150.1 77.3,152.8 C76.4,155.5 75.4,156.6 74.0,157.0 C72.6,157.4 70.4,156.2 69.0,155.0 C67.6,153.8 67.1,151.4 65.8,149.5 C64.5,147.6 63.2,145.3 61.0,143.8 C58.8,142.3 56.3,141.6 52.7,140.5 C49.1,139.4 44.0,137.3 39.6,137.3 C35.2,137.3 28.7,140.0 26.5,140.5"/>
<path d="M163.0,28.6 C162.8,28.8 162.4,29.3 161.7,30.0 C161.1,30.6 160.3,31.5 159.2,32.7 C158.2,33.8 156.9,35.2 155.4,36.8 C154.0,38.3 152.1,40.4 150.4,42.2 C148.7,44.0 147.0,45.8 145.2,47.5 C143.5,49.3 141.7,51.0 139.9,52.7 C138.1,54.4 136.3,56.1 134.5,57.7 C132.7,59.4 130.8,61.1 128.9,62.6 C127.1,64.1 125.3,65.6 123.6,66.9 C121.8,68.2 120.1,69.4 118.4,70.5 C116.7,71.6 115.0,72.6 113.4,73.5 C111.7,74.4 110.1,74.7 108.6,75.8 C107.0,77.0 105.6,78.5 104.2,80.4 C102.8,82.4 101.5,84.6 100.3,87.3 C99.1,90.0 98.0,93.0 96.9,96.5 C95.8,99.9 94.8,104.4 93.9,107.9 C93.0,111.4 92.2,114.6 91.5,117.4 C90.7,120.3 90.1,122.9 89.5,125.1 C88.9,127.4 88.4,129.4 88.0,131.0 C87.6,132.6 87.3,133.8 87.0,135.0 C86.7,136.2 86.5,137.2 86.2,138.0 C86.0,138.8 85.9,139.5 85.8,140.0 C85.6,140.5 85.7,139.7 85.5,141.0 C85.3,142.3 85.1,144.9 84.6,148.0 C84.0,151.1 83.4,156.8 82.2,159.4 C81.0,162.0 79.2,163.1 77.3,163.5 C75.4,163.9 72.9,163.2 70.7,161.8 C68.5,160.4 67.2,157.4 64.2,155.3 C61.2,153.2 57.3,150.6 52.7,149.5 C48.1,148.4 41.4,148.3 36.4,148.7 C31.4,149.1 24.8,151.4 22.5,152.0"/>
<path d="M173.0,28.0 C172.8,28.2 172.3,28.7 171.7,29.5 C171.0,30.2 170.2,31.1 169.1,32.4 C168.0,33.6 166.7,35.0 165.1,36.7 C163.6,38.4 161.7,40.6 159.9,42.5 C158.1,44.5 156.3,46.3 154.5,48.2 C152.7,50.1 150.9,51.9 149.0,53.8 C147.1,55.6 145.3,57.4 143.3,59.2 C141.4,61.0 139.5,62.8 137.6,64.5 C135.6,66.1 133.7,67.7 131.8,69.1 C129.9,70.6 127.9,72.0 126.0,73.2 C124.1,74.5 122.1,75.6 120.2,76.6 C118.3,77.7 116.2,78.2 114.4,79.5 C112.6,80.7 110.9,82.3 109.3,84.2 C107.6,86.1 106.1,88.2 104.7,90.7 C103.3,93.2 102.1,96.1 100.9,99.2 C99.7,102.3 98.6,106.3 97.6,109.5 C96.7,112.7 95.8,115.6 95.0,118.3 C94.2,120.9 93.5,123.3 93.0,125.4 C92.4,127.5 91.9,129.4 91.5,131.0 C91.1,132.6 90.9,133.8 90.6,135.0 C90.4,136.2 90.1,137.2 90.0,138.0 C89.8,138.8 89.6,139.5 89.5,140.0 C89.4,140.5 89.7,138.9 89.3,141.0 C88.9,143.1 87.8,149.2 87.0,152.8 C86.2,156.4 85.9,160.4 84.6,162.6 C83.3,164.8 81.0,165.6 79.0,166.0 C77.0,166.4 74.9,166.1 72.4,165.0 C69.9,163.9 67.5,161.0 64.2,159.4 C60.9,157.8 57.3,156.1 52.7,155.3 C48.1,154.5 41.4,154.1 36.4,154.5 C31.4,154.9 24.8,157.2 22.5,157.7"/>
<path d="M184.0,32.0 C183.8,32.2 183.3,32.7 182.6,33.4 C181.9,34.1 181.0,35.1 179.8,36.2 C178.6,37.4 177.2,38.8 175.6,40.4 C174.0,42.1 171.9,44.2 170.0,46.1 C168.1,47.9 166.2,49.8 164.3,51.6 C162.4,53.4 160.4,55.2 158.4,56.9 C156.5,58.7 154.5,60.4 152.5,62.1 C150.4,63.9 148.4,65.6 146.4,67.2 C144.3,68.8 142.2,70.4 140.1,71.9 C138.0,73.3 135.8,74.7 133.6,76.1 C131.5,77.4 129.3,78.6 127.0,79.8 C124.8,81.0 122.4,81.8 120.2,83.1 C118.1,84.5 116.2,86.1 114.3,87.9 C112.5,89.7 110.9,91.8 109.3,94.2 C107.8,96.5 106.4,99.1 105.2,101.9 C103.9,104.8 102.9,108.3 101.9,111.2 C100.9,114.0 100.0,116.7 99.2,119.1 C98.4,121.5 97.7,123.7 97.0,125.7 C96.4,127.7 95.9,129.4 95.4,131.0 C95.0,132.6 94.7,133.8 94.4,135.0 C94.1,136.2 93.8,137.2 93.6,138.0 C93.4,138.8 93.2,139.5 93.1,140.0 C92.9,140.5 93.2,138.6 92.8,141.0 C92.4,143.4 91.2,150.6 90.4,154.5 C89.6,158.4 89.4,162.0 88.0,164.3 C86.6,166.6 84.5,167.7 82.2,168.4 C79.9,169.1 77.0,169.1 74.0,168.4 C71.0,167.7 67.8,165.5 64.2,164.3 C60.7,163.1 57.3,162.0 52.7,161.3 C48.1,160.6 41.4,159.8 36.4,160.2 C31.4,160.6 24.8,162.9 22.5,163.5"/>
<path d="M195.0,37.0 C194.8,37.2 194.3,37.7 193.5,38.3 C192.8,39.0 191.8,39.9 190.5,41.0 C189.3,42.1 187.8,43.4 186.1,45.0 C184.3,46.5 182.1,48.6 180.1,50.3 C178.1,52.1 176.1,53.8 174.1,55.5 C172.0,57.2 169.9,58.9 167.9,60.5 C165.8,62.2 163.7,63.8 161.6,65.4 C159.4,67.0 157.3,68.6 155.1,70.2 C152.9,71.7 150.7,73.2 148.4,74.7 C146.1,76.1 143.7,77.5 141.3,78.9 C138.9,80.3 136.4,81.7 133.9,83.0 C131.3,84.3 128.4,85.3 126.1,86.8 C123.7,88.2 121.6,89.8 119.8,91.6 C117.9,93.4 116.3,95.4 114.9,97.6 C113.6,99.8 112.4,102.1 111.5,104.7 C110.7,107.2 110.2,110.3 109.6,112.8 C109.0,115.3 108.4,117.7 107.8,119.9 C107.2,122.1 106.6,124.1 106.0,126.0 C105.5,127.8 104.9,129.5 104.4,131.0 C103.8,132.5 103.3,133.8 102.8,135.0 C102.4,136.2 102.0,137.2 101.7,138.0 C101.3,138.8 101.1,139.5 100.9,140.0 C100.7,140.5 100.8,139.2 100.5,141.0 C100.2,142.8 99.6,147.4 99.0,150.7 C98.4,154.0 97.9,157.6 97.0,161.0 C96.1,164.4 94.9,168.2 93.6,171.0 C92.3,173.8 90.6,176.2 89.0,178.0 C87.4,179.8 85.8,181.0 84.0,182.0 C82.2,183.0 81.0,184.0 78.0,184.0 C75.0,184.0 70.7,183.2 66.0,182.0 C61.3,180.8 56.0,178.0 50.0,177.0 C44.0,176.0 33.3,176.2 30.0,176.0"/>
<path d="M206.0,42.0 C205.7,42.2 205.2,42.6 204.4,43.3 C203.6,43.9 202.6,44.7 201.3,45.8 C200.0,46.8 198.4,48.1 196.5,49.5 C194.7,51.0 192.4,52.9 190.2,54.5 C188.1,56.2 186.0,57.8 183.8,59.4 C181.7,61.0 179.5,62.6 177.3,64.1 C175.1,65.7 172.9,67.2 170.7,68.7 C168.4,70.2 166.2,71.6 163.9,73.1 C161.6,74.6 159.2,76.0 156.7,77.5 C154.2,78.9 151.6,80.4 148.9,81.8 C146.3,83.3 143.5,84.7 140.7,86.1 C137.9,87.6 134.6,88.9 131.9,90.4 C129.3,91.9 126.9,93.6 124.8,95.4 C122.7,97.1 120.9,99.0 119.4,101.0 C117.8,103.0 116.5,105.2 115.5,107.4 C114.5,109.6 114.0,112.2 113.3,114.4 C112.6,116.7 112.0,118.7 111.4,120.7 C110.8,122.7 110.3,124.5 109.8,126.2 C109.3,128.0 108.9,129.5 108.5,131.0 C108.1,132.5 107.8,133.8 107.5,135.0 C107.2,136.2 107.0,137.2 106.8,138.0 C106.5,138.8 106.4,139.5 106.2,140.0 C106.1,140.5 106.5,139.4 106.0,141.0 C105.5,142.6 103.6,146.7 103.0,149.5 C102.4,152.3 103.1,154.1 102.6,157.7 C102.1,161.3 100.8,167.3 100.0,171.0 C99.2,174.7 99.0,177.3 98.0,180.0 C97.0,182.7 96.0,185.3 94.0,187.0 C92.0,188.7 89.0,189.3 86.0,190.0 C83.0,190.7 79.7,191.5 76.0,191.0 C72.3,190.5 68.3,188.5 64.0,187.0 C59.7,185.5 55.0,182.7 50.0,182.0 C45.0,181.3 36.7,182.8 34.0,183.0"/>
<path d="M214.0,48.0 C213.7,48.2 213.2,48.6 212.4,49.1 C211.6,49.7 210.6,50.5 209.3,51.4 C208.0,52.4 206.4,53.5 204.6,54.9 C202.7,56.2 200.4,57.9 198.3,59.5 C196.2,61.0 194.1,62.4 191.9,63.9 C189.8,65.3 187.6,66.7 185.4,68.1 C183.2,69.5 181.0,70.9 178.8,72.3 C176.6,73.6 174.5,74.9 172.1,76.2 C169.8,77.6 167.3,78.9 164.7,80.4 C162.1,81.8 159.3,83.2 156.5,84.7 C153.6,86.2 150.6,87.7 147.5,89.3 C144.4,90.8 140.7,92.4 137.8,94.0 C134.8,95.7 132.2,97.4 129.8,99.1 C127.5,100.8 125.5,102.6 123.7,104.5 C122.0,106.3 120.5,108.2 119.4,110.1 C118.2,112.1 117.6,114.2 116.8,116.1 C116.1,118.0 115.4,119.8 114.8,121.5 C114.3,123.3 113.8,124.9 113.4,126.5 C113.1,128.1 112.8,129.6 112.6,131.0 C112.4,132.4 112.4,133.8 112.4,135.0 C112.3,136.2 112.2,137.2 112.2,138.0 C112.1,138.8 112.1,139.5 112.1,140.0 C112.0,140.5 112.6,139.7 112.0,141.0 C111.4,142.3 109.3,145.3 108.5,148.0 C107.7,150.7 107.3,153.2 107.0,157.0 C106.7,160.8 106.9,167.2 106.7,171.0 C106.5,174.8 106.6,176.8 106.0,180.0 C105.4,183.2 104.3,187.0 103.0,190.0 C101.7,193.0 100.2,196.0 98.0,198.0 C95.8,200.0 93.3,201.3 90.0,202.0 C86.7,202.7 81.3,202.7 78.0,202.0 C74.7,201.3 72.7,199.7 70.0,198.0 C67.3,196.3 65.3,193.5 62.0,192.0 C58.7,190.5 54.3,189.3 50.0,189.0 C45.7,188.7 38.3,189.8 36.0,190.0"/>
<path d="M244.0,68.0 C243.7,68.1 243.1,68.4 242.3,68.8 C241.4,69.1 240.2,69.6 238.8,70.3 C237.3,70.9 235.6,71.7 233.5,72.5 C231.5,73.4 228.9,74.6 226.5,75.6 C224.2,76.6 221.8,77.5 219.5,78.4 C217.1,79.4 214.7,80.2 212.3,81.1 C209.9,82.0 207.6,82.8 205.1,83.6 C202.7,84.4 200.5,85.0 197.9,85.9 C195.2,86.9 192.4,88.0 189.3,89.2 C186.2,90.5 182.9,91.9 179.3,93.5 C175.8,95.1 172.0,96.8 168.0,98.8 C164.0,100.7 159.1,103.0 155.3,105.0 C151.6,106.9 148.3,108.7 145.4,110.3 C142.6,111.9 140.2,113.4 138.3,114.8 C136.4,116.1 134.9,117.3 133.9,118.3 C132.9,119.4 132.8,120.0 132.4,121.0 C131.9,121.9 131.5,122.9 131.2,124.0 C130.9,125.1 130.7,126.2 130.6,127.3 C130.4,128.5 130.4,129.7 130.4,131.0 C130.4,132.3 130.6,133.8 130.6,135.0 C130.7,136.2 130.8,137.2 130.8,138.0 C130.9,138.8 130.9,139.5 130.9,140.0 C131.0,140.5 131.4,139.2 131.0,141.0 C130.6,142.8 128.9,147.8 128.8,150.7 C128.8,153.6 129.3,156.1 130.7,158.4 C132.1,160.7 135.3,162.4 137.0,164.7 C138.7,167.0 139.5,170.1 141.0,172.0 C142.5,173.9 144.3,174.0 146.0,176.0 C147.7,178.0 148.2,181.7 151.0,184.0 C153.8,186.3 159.3,189.0 163.0,190.0 C166.7,191.0 171.3,190.0 173.0,190.0"/>
<path d="M250.0,75.0 C249.7,75.1 249.2,75.3 248.3,75.6 C247.5,75.9 246.4,76.3 245.0,76.8 C243.6,77.4 241.9,78.0 239.9,78.7 C237.9,79.4 235.4,80.4 233.2,81.2 C230.9,82.0 228.7,82.7 226.4,83.5 C224.1,84.2 221.9,84.9 219.6,85.6 C217.3,86.2 215.0,86.9 212.7,87.5 C210.4,88.1 208.3,88.4 205.7,89.2 C203.1,90.0 200.3,91.0 197.1,92.2 C193.9,93.4 190.5,94.8 186.8,96.5 C183.1,98.1 179.1,99.9 174.8,101.9 C170.5,103.9 165.2,106.6 161.2,108.6 C157.1,110.6 153.6,112.4 150.7,114.0 C147.7,115.6 145.2,117.0 143.3,118.2 C141.4,119.3 140.0,120.3 139.1,121.0 C138.2,121.8 138.4,122.0 138.1,122.6 C137.7,123.3 137.4,124.0 137.2,124.8 C136.9,125.6 136.7,126.6 136.4,127.6 C136.2,128.6 136.0,129.8 135.9,131.0 C135.7,132.2 135.6,133.8 135.4,135.0 C135.3,136.2 135.2,137.2 135.1,138.0 C135.0,138.8 135.0,139.5 134.9,140.0 C134.9,140.5 134.6,139.7 134.8,141.0 C135.0,142.3 135.8,146.8 136.0,148.0"/>
<path d="M256.0,85.5 C255.9,85.5 255.8,85.4 255.6,85.3 C255.4,85.2 255.2,85.1 254.9,84.9 C254.6,84.8 254.2,84.6 253.8,84.4 C253.3,84.2 252.8,83.9 252.2,83.6 C251.7,83.4 251.2,83.2 250.7,82.9 C250.2,82.7 249.6,82.5 249.1,82.3 C248.5,82.1 247.9,81.9 247.4,81.8 C246.8,81.6 246.2,81.4 245.6,81.2 C245.0,81.1 244.5,81.1 243.9,81.0 C243.3,81.0 242.7,81.0 242.1,81.1 C241.5,81.2 241.0,81.3 240.4,81.4 C239.8,81.6 239.2,81.8 238.6,82.1 C238.0,82.3 237.4,82.6 236.8,82.8 C236.1,83.1 235.4,83.4 234.8,83.8 C234.1,84.1 233.4,84.5 232.6,84.9 C231.9,85.3 231.1,85.7 230.4,86.1 C229.6,86.5 228.8,86.9 228.0,87.3 C227.2,87.7 226.4,88.1 225.5,88.4 C224.6,88.8 223.8,89.2 222.9,89.5 C222.0,89.8 221.1,90.2 220.1,90.5 C219.2,90.8 218.2,91.1 217.3,91.4 C216.3,91.7 215.4,91.9 214.4,92.2 C213.4,92.4 212.4,92.7 211.4,92.9 C210.3,93.1 209.8,93.0 208.2,93.4 C206.7,93.9 204.7,94.6 202.3,95.7 C199.8,96.7 196.8,98.0 193.4,99.5 C190.0,101.1 186.0,103.0 181.6,105.1 C177.2,107.2 171.3,110.1 167.0,112.3 C162.7,114.4 159.0,116.2 155.9,117.8 C152.8,119.3 150.3,120.6 148.3,121.6 C146.4,122.6 145.0,123.3 144.3,123.8 C143.5,124.2 143.9,124.0 143.8,124.3 C143.6,124.6 143.4,125.0 143.2,125.6 C143.0,126.2 142.7,127.0 142.5,127.9 C142.3,128.8 142.0,129.8 141.8,131.0 C141.5,132.2 141.2,133.8 140.9,135.0 C140.7,136.2 140.5,137.2 140.3,138.0 C140.1,138.8 140.0,139.5 139.9,140.0 C139.8,140.5 139.8,139.8 139.7,141.0 C139.6,142.2 139.5,146.0 139.5,147.0"/>
<path d="M224.0,54.0 C223.7,54.2 223.2,54.5 222.4,55.0 C221.6,55.6 220.5,56.2 219.1,57.1 C217.8,58.0 216.1,59.0 214.2,60.2 C212.3,61.4 209.9,63.0 207.7,64.4 C205.5,65.7 203.3,67.0 201.1,68.4 C198.9,69.7 196.7,70.9 194.4,72.2 C192.2,73.4 189.9,74.6 187.6,75.8 C185.3,77.0 183.2,78.1 180.7,79.3 C178.3,80.6 175.7,81.9 172.9,83.3 C170.1,84.6 167.2,86.1 164.1,87.6 C161.0,89.2 157.7,90.8 154.3,92.4 C150.9,94.1 146.9,96.0 143.6,97.7 C140.4,99.4 137.5,101.1 135.0,102.8 C132.4,104.5 130.2,106.2 128.4,107.9 C126.5,109.6 125.0,111.2 123.8,112.8 C122.6,114.5 122.0,116.1 121.3,117.7 C120.5,119.3 119.9,120.8 119.4,122.4 C118.9,123.9 118.5,125.3 118.1,126.8 C117.8,128.2 117.6,129.6 117.5,131.0 C117.4,132.4 117.6,133.8 117.6,135.0 C117.6,136.2 117.6,137.2 117.6,138.0 C117.6,138.8 117.6,139.5 117.6,140.0 C117.6,140.5 117.9,140.1 117.6,141.0 C117.3,141.9 116.0,143.3 115.5,145.6 C115.0,147.8 114.5,151.5 114.8,154.5 C115.1,157.5 116.4,161.1 117.4,163.5 C118.4,165.9 119.7,168.2 121.0,169.0 C122.3,169.8 124.2,170.0 125.0,168.5 C125.8,167.0 126.4,162.9 126.0,160.0 C125.6,157.1 123.0,153.5 122.5,151.0 C122.0,148.5 122.5,146.7 122.8,145.0 C123.1,143.3 124.0,141.8 124.2,141.0 C124.4,140.2 124.2,140.5 124.2,140.0 C124.2,139.5 124.2,138.8 124.2,138.0 C124.2,137.2 124.1,136.2 124.1,135.0 C124.1,133.8 124.0,132.3 124.1,131.0 C124.1,129.7 124.3,128.4 124.5,127.1 C124.8,125.8 125.1,124.5 125.5,123.2 C125.9,121.9 126.4,120.6 127.0,119.3 C127.5,118.1 127.9,116.9 129.0,115.6 C130.0,114.2 131.5,112.8 133.4,111.3 C135.2,109.8 137.5,108.2 140.2,106.6 C142.9,104.9 146.0,103.2 149.5,101.3 C153.0,99.5 157.5,97.4 161.2,95.6 C164.9,93.8 168.4,92.1 171.7,90.5 C175.0,89.0 178.1,87.5 181.1,86.2 C184.0,84.8 186.8,83.6 189.3,82.4 C191.9,81.3 194.0,80.4 196.4,79.4 C198.7,78.4 201.1,77.3 203.4,76.2 C205.7,75.1 208.0,74.0 210.3,72.8 C212.6,71.7 214.9,70.5 217.1,69.3 C219.4,68.1 221.9,66.7 223.9,65.6 C225.8,64.5 227.5,63.6 228.9,62.8 C230.3,62.0 231.5,61.4 232.3,60.9 C233.2,60.5 233.7,60.2 234.0,60.0"/>
<path d="M93.0,100.0 C92.2,102.0 89.8,107.8 88.5,112.0 C87.2,116.2 86.6,120.2 85.5,125.0 C84.4,129.8 83.0,135.8 82.0,141.0 C81.0,146.2 80.8,152.8 79.7,156.0 C78.6,159.2 77.4,159.8 75.6,160.2 C73.8,160.6 71.2,160.1 69.0,158.6 C66.8,157.1 65.3,153.4 62.6,151.2 C59.9,149.0 57.1,146.9 52.7,145.5 C48.3,144.1 41.3,142.9 36.4,143.0 C31.5,143.1 25.5,145.8 23.3,146.3"/>
<path d="M109.0,102.0 C108.2,104.0 105.7,110.2 104.5,114.0 C103.3,117.8 103.2,120.5 101.8,125.0 C100.4,129.5 97.7,135.8 96.3,141.0 C94.9,146.2 94.4,151.8 93.6,156.0 C92.8,160.2 92.5,163.5 91.2,166.0 C89.9,168.5 87.7,169.9 85.5,171.0 C83.3,172.1 80.5,172.5 78.0,172.5 C75.5,172.5 73.3,171.6 70.7,171.0 C68.1,170.4 65.6,169.9 62.6,169.2 C59.6,168.5 57.1,167.2 52.7,166.7 C48.3,166.2 41.3,165.7 36.4,166.0 C31.5,166.3 25.5,168.0 23.3,168.4"/>
<path d="M160.0,122.5 C158.8,123.2 155.0,125.1 153.0,127.0 C151.0,128.9 149.2,131.7 148.0,134.0 C146.8,136.3 146.1,139.0 145.8,141.0 C145.5,143.0 145.8,143.8 146.2,146.0 C146.6,148.2 147.3,151.8 148.5,154.5 C149.7,157.2 151.7,159.9 153.6,162.0 C155.5,164.1 158.1,165.1 160.0,167.3 C161.9,169.5 163.0,172.6 165.0,175.0 C167.0,177.4 170.8,180.8 172.0,182.0"/>
<path d="M232.0,92.5 C230.0,93.7 224.0,97.8 220.0,99.5 C216.0,101.2 211.7,100.9 208.0,102.5 C204.3,104.1 201.2,106.8 198.0,109.0 C194.8,111.2 190.5,114.8 189.0,116.0"/>
<path d="M128.0,167.0 C128.5,167.8 130.1,170.2 131.0,172.0 C131.9,173.8 132.8,175.8 133.3,178.0 C133.8,180.2 133.1,182.8 134.0,185.0 C134.9,187.2 137.2,190.0 139.0,191.0 C140.8,192.0 143.3,190.3 145.0,191.0 C146.7,191.7 147.9,193.4 149.3,195.4 C150.7,197.4 152.2,200.4 153.6,203.0 C155.0,205.6 156.9,208.7 158.0,211.0 C159.1,213.3 159.8,214.8 160.0,217.0 C160.2,219.2 160.2,221.5 159.0,224.0 C157.8,226.5 155.7,230.1 153.0,232.0 C150.3,233.9 147.0,235.3 143.0,235.6 C139.0,235.9 133.3,234.8 129.0,234.0 C124.7,233.2 121.0,231.8 117.0,231.0 C113.0,230.2 107.7,230.5 105.0,229.0 C102.3,227.5 102.3,224.4 101.0,222.0 C99.7,219.6 98.8,216.4 97.0,214.5 C95.2,212.6 92.5,211.6 90.0,210.5 C87.5,209.4 85.3,208.9 82.0,208.0 C78.7,207.1 73.7,206.7 70.0,205.0 C66.3,203.3 63.3,199.7 60.0,198.0 C56.7,196.3 53.7,195.2 50.0,195.0 C46.3,194.8 40.0,196.7 38.0,197.0"/>
<path d="M138.0,164.0 C138.7,165.3 140.8,169.7 142.0,172.0 C143.2,174.3 143.8,176.1 145.0,178.0 C146.2,179.9 148.1,182.0 149.3,183.7 C150.5,185.4 150.8,187.3 152.2,188.0 C153.6,188.7 155.8,187.2 158.0,188.0 C160.2,188.8 162.6,190.6 165.3,192.5 C168.0,194.4 172.6,198.5 174.0,199.7"/>
<path d="M123.0,186.6 C123.8,187.8 125.8,191.8 127.5,194.0 C129.2,196.2 131.9,198.0 133.0,200.0 C134.1,202.0 134.7,204.3 134.0,206.0 C133.3,207.7 132.2,209.2 129.0,210.0 C125.8,210.8 119.0,210.7 115.0,211.0 C111.0,211.3 107.7,211.3 105.0,212.0 C102.3,212.7 100.0,214.5 99.0,215.0"/>
<path d="M40.0,206.0 C41.7,205.5 46.3,203.2 50.0,203.0 C53.7,202.8 58.3,203.8 62.0,205.0 C65.7,206.2 68.0,208.7 72.0,210.0 C76.0,211.3 82.0,212.0 86.0,213.0 C90.0,214.0 93.7,214.5 96.0,216.0 C98.3,217.5 99.3,221.0 100.0,222.0"/>
<path d="M44.0,217.0 C46.0,216.3 51.7,213.5 56.0,213.0 C60.3,212.5 65.7,213.5 70.0,214.0 C74.3,214.5 80.0,215.7 82.0,216.0"/>
</g>
<g font-family="Liberation Sans, sans-serif" font-size="3.2" fill="#cfa352" stroke="#fff" stroke-width="0.9" paint-order="stroke" text-anchor="middle">
<text transform="translate(53.4,30.9) rotate(-40)" y="1.1">544</text>
<text transform="translate(70.3,42.1) rotate(-50)" y="1.1">543</text>
<text transform="translate(89.9,40.8) rotate(-45)" y="1.1">540</text>
<text transform="translate(99.8,42.4) rotate(-50)" y="1.1">539</text>
<text transform="translate(106.2,48.1) rotate(-50)" y="1.1">538</text>
<text transform="translate(139,26) rotate(-55)" y="1.1">537</text>
<text transform="translate(150,31) rotate(-55)" y="1.1">536</text>
<text transform="translate(160.5,36.5) rotate(-58)" y="1.1">535</text>
<text transform="translate(168.5,41.5) rotate(-60)" y="1.1">534</text>
<text transform="translate(179.5,48) rotate(-60)" y="1.1">533</text>
<text transform="translate(189,52) rotate(-62)" y="1.1">532</text>
<text transform="translate(197,54.5) rotate(-62)" y="1.1">531</text>
<text transform="translate(203,59) rotate(-62)" y="1.1">530</text>
<text transform="translate(213,62) rotate(-60)" y="1.1">529</text>
<text transform="translate(222,66) rotate(-58)" y="1.1">528</text>
<text transform="translate(230,67.5) rotate(-50)" y="1.1">527</text>
<text transform="translate(240,72) rotate(-45)" y="1.1">525</text>
<text transform="translate(231,85.8) rotate(-30)" y="1.1">521</text>
</g>
<g fill="none" stroke="#262626" stroke-width="1.1" stroke-linejoin="miter">
<path d="M19.4,45.9 L48,33 L68.65,59.7 L93.7,42.8 L102.6,59.7 L135.6,31.8 L225,74.7 L208,95.3 L155.5,134.2 L140.1,150.7 L143.5,181.6 L148,207.7 L83.2,228.3 L53.8,214.7 L24.5,141.4 L49.9,128.1 Z"/>
<path d="M68.65,59.7 L77.2,71.5 L77.2,79.7 L49.9,128.1"/>
<path d="M77.2,79.7 L85.5,76.5 L102.6,59.7"/>
<path d="M84.3,77 L83.2,228.3"/>
<path d="M89.3,73.5 L97,98 L128.7,180.9 L143.5,181.6"/>
<path d="M92,71 L155.5,134.2"/>
<path d="M98.5,63.5 L208,95.3"/>
</g>
<g font-family="Liberation Sans, sans-serif" font-weight="bold" font-size="4.5" fill="#1a1a1a" stroke="#1a1a1a" stroke-width="0.08" text-anchor="middle">
<text x="51" y="79.7">Pk1</text>
<text x="56.5" y="155.5">Pk2</text>
<text x="105" y="180.2">Pk3</text>
<text x="127.2" y="131">Pk4</text>
<text x="149" y="110">Pk5</text>
<text x="162" y="66.5">Pk6</text>
</g>
<g stroke-width="0.5">
<circle cx="29.4" cy="51.6" r="3.2" fill="#3ea80a" stroke="#2f5f14"/>
<circle cx="45" cy="41.4" r="5.0" fill="#3ea80a" stroke="#2f5f14"/>
<circle cx="45" cy="51.6" r="3.2" fill="#3ea80a" stroke="#2f5f14"/>
<circle cx="30.4" cy="67" r="1.0" fill="#8b0a6a" stroke="#5a0a4a"/>
<circle cx="60.2" cy="66.8" r="2.6" fill="#3ea80a" stroke="#2f5f14"/>
<circle cx="40" cy="82" r="3.3" fill="#3ea80a" stroke="#2f5f14"/>
<circle cx="68.5" cy="80.6" r="3.3" fill="#3ea80a" stroke="#2f5f14"/>
<circle cx="55.4" cy="87.4" r="1.9" fill="#3ea80a" stroke="#2f5f14"/>
<circle cx="78" cy="86.5" r="1.9" fill="#3ea80a" stroke="#2f5f14"/>
<circle cx="55" cy="102.6" r="3.4" fill="#3ea80a" stroke="#2f5f14"/>
<circle cx="65.4" cy="102.4" r="2.6" fill="#3ea80a" stroke="#2f5f14"/>
<circle cx="75.4" cy="102.4" r="1.0" fill="#8b0a6a" stroke="#5a0a4a"/>
<circle cx="85.5" cy="76.6" r="4.6" fill="#3ea80a" stroke="#2f5f14"/>
<circle cx="90.5" cy="71.8" r="3.2" fill="#3ea80a" stroke="#2f5f14"/>
<circle cx="95.9" cy="66.8" r="3.0" fill="#3ea80a" stroke="#2f5f14"/>
<circle cx="100.8" cy="61.8" r="4.8" fill="#3ea80a" stroke="#2f5f14"/>
<circle cx="100.3" cy="74.5" r="3.2" fill="#3ea80a" stroke="#2f5f14"/>
<circle cx="93.3" cy="81.4" r="3.3" fill="#3ea80a" stroke="#2f5f14"/>
<circle cx="91" cy="88.8" r="2.4" fill="#3ea80a" stroke="#2f5f14"/>
<circle cx="100.6" cy="97.4" r="1.0" fill="#8b0a6a" stroke="#5a0a4a"/>
<circle cx="91" cy="107.4" r="2.8" fill="#3ea80a" stroke="#2f5f14"/>
<circle cx="121" cy="51.8" r="3.1" fill="#3ea80a" stroke="#2f5f14"/>
<circle cx="146.8" cy="56.6" r="2.6" fill="#3ea80a" stroke="#2f5f14"/>
<circle cx="136.6" cy="62.4" r="5.0" fill="#3ea80a" stroke="#2f5f14"/>
<circle cx="146.6" cy="71.6" r="1.0" fill="#8b0a6a" stroke="#5a0a4a"/>
<circle cx="192.5" cy="71.7" r="1.0" fill="#8b0a6a" stroke="#5a0a4a"/>
<circle cx="213.6" cy="73.8" r="3.2" fill="#3ea80a" stroke="#2f5f14"/>
<circle cx="191" cy="85.5" r="2.6" fill="#3ea80a" stroke="#2f5f14"/>
<circle cx="114.6" cy="66.2" r="4.6" fill="#3ea80a" stroke="#2f5f14"/>
<circle cx="116" cy="82.1" r="1.8" fill="#3ea80a" stroke="#2f5f14"/>
<circle cx="131" cy="80.6" r="3.0" fill="#3ea80a" stroke="#2f5f14"/>
<circle cx="136.4" cy="92.2" r="3.2" fill="#3ea80a" stroke="#2f5f14"/>
<circle cx="126.4" cy="97.4" r="1.0" fill="#8b0a6a" stroke="#5a0a4a"/>
<circle cx="112" cy="104.3" r="2.6" fill="#3ea80a" stroke="#2f5f14"/>
<circle cx="157" cy="102.4" r="1.8" fill="#3ea80a" stroke="#2f5f14"/>
<circle cx="178" cy="102.4" r="1.0" fill="#8b0a6a" stroke="#5a0a4a"/>
<circle cx="192.6" cy="102.5" r="1.0" fill="#8b0a6a" stroke="#5a0a4a"/>
<circle cx="55" cy="114.5" r="3.4" fill="#3ea80a" stroke="#2f5f14"/>
<circle cx="79.6" cy="117" r="1.0" fill="#8b0a6a" stroke="#5a0a4a"/>
<circle cx="65" cy="123" r="1.0" fill="#8b0a6a" stroke="#5a0a4a"/>
<circle cx="99.3" cy="124" r="3.4" fill="#3ea80a" stroke="#2f5f14"/>
<circle cx="55" cy="137.8" r="2.6" fill="#3ea80a" stroke="#2f5f14"/>
<circle cx="90.8" cy="142.8" r="1.8" fill="#3ea80a" stroke="#2f5f14"/>
<circle cx="70.4" cy="153" r="1.0" fill="#8b0a6a" stroke="#5a0a4a"/>
<circle cx="121" cy="112.6" r="3.2" fill="#3ea80a" stroke="#2f5f14"/>
<circle cx="121" cy="137.8" r="1.0" fill="#8b0a6a" stroke="#5a0a4a"/>
<circle cx="134.4" cy="139.4" r="1.8" fill="#3ea80a" stroke="#2f5f14"/>
<circle cx="146.6" cy="133.4" r="1.8" fill="#3ea80a" stroke="#2f5f14"/>
<circle cx="154" cy="124.6" r="1.0" fill="#8b0a6a" stroke="#5a0a4a"/>
<circle cx="172" cy="112.6" r="3.2" fill="#3ea80a" stroke="#2f5f14"/>
<circle cx="40" cy="158.4" r="1.0" fill="#8b0a6a" stroke="#5a0a4a"/>
<circle cx="72" cy="168" r="1.8" fill="#3ea80a" stroke="#2f5f14"/>
<circle cx="55" cy="183.6" r="1.0" fill="#8b0a6a" stroke="#5a0a4a"/>
<circle cx="78.6" cy="201.4" r="2.4" fill="#3ea80a" stroke="#2f5f14"/>
<circle cx="96" cy="194" r="1.0" fill="#8b0a6a" stroke="#5a0a4a"/>
<circle cx="111" cy="163.6" r="1.0" fill="#8b0a6a" stroke="#5a0a4a"/>
<circle cx="131.4" cy="168.4" r="1.0" fill="#8b0a6a" stroke="#5a0a4a"/>
<circle cx="124" cy="185.4" r="1.0" fill="#8b0a6a" stroke="#5a0a4a"/>
<circle cx="121.4" cy="204.2" r="1.0" fill="#8b0a6a" stroke="#5a0a4a"/>
<circle cx="60" cy="209.2" r="1.0" fill="#8b0a6a" stroke="#5a0a4a"/>
<circle cx="95.8" cy="209" r="1.0" fill="#8b0a6a" stroke="#5a0a4a"/>
<circle cx="80.6" cy="224.4" r="1.0" fill="#8b0a6a" stroke="#5a0a4a"/>
<circle cx="141.5" cy="209.2" r="1.6" fill="#3ea80a" stroke="#2f5f14"/>
</g>
<text x="245" y="13.4" font-family="Liberation Sans, sans-serif" font-weight="bold" font-size="5.2" fill="#222" text-anchor="middle">N</text>
<path d="M245,14.8 L241.2,26.9 L245.3,22.5 Z" fill="#111"/>
<path d="M245,14.8 L248.7,26.9 L245.3,22.5 Z" fill="#fff" stroke="#111" stroke-width="0.5"/>
<rect x="173.6" y="247.3" width="50.9" height="4.2" fill="#fff" stroke="#111" stroke-width="0.6"/>
<rect x="173.6" y="247.3" width="25.5" height="4.2" fill="#111"/>
<g font-family="Liberation Sans, sans-serif" font-size="7.9" fill="#222" stroke="#222" stroke-width="0.18">
<text x="173.6" y="243.7" text-anchor="middle">0</text><text x="199.1" y="243.7" text-anchor="middle">25</text><text x="224.5" y="243.7" text-anchor="middle">50</text>
<text x="226.7" y="251.4">Meters</text></g>
</g>
<g font-family="Liberation Sans, sans-serif" fill="#151515" stroke="#151515" stroke-width="0.28">
<text x="180.3" y="164.7" font-weight="bold" font-size="8.85">Variation of SOM</text>
<text x="180.3" y="174.7" font-weight="bold" font-size="8.85">2007 (%)</text>
<circle cx="189.5" cy="185.5" r="1.3" fill="#f0cf84" stroke="#8f6f3a" stroke-width="0.5"/>
<text x="203.2" y="189.5" font-size="9.5" fill="#222" stroke="#222" stroke-width="0.22">85 — 135</text>
<circle cx="189.5" cy="198.5" r="2.5" fill="#f0cf84" stroke="#8f6f3a" stroke-width="0.5"/>
<text x="203.2" y="202.45" font-size="9.5" fill="#222" stroke="#222" stroke-width="0.22">136 — 185</text>
<circle cx="189.5" cy="211.6" r="3.6" fill="#c48e22" stroke="#86601c" stroke-width="0.5"/>
<text x="203.2" y="215.45" font-size="9.5" fill="#222" stroke="#222" stroke-width="0.22">186 — 235</text>
<circle cx="189.5" cy="224.4" r="4.8" fill="#a07a22" stroke="#64491a" stroke-width="0.5"/>
<text x="203.2" y="228.45" font-size="9.5" fill="#222" stroke="#222" stroke-width="0.22">236 — 376</text>
</g>
<g font-family="Liberation Sans, sans-serif" fill="#151515" stroke="#151515" stroke-width="0.28">
<text x="457.3" y="147.8" font-weight="bold" font-size="8.8">Variation of Olsen-P</text>
<text x="457.3" y="158.4" font-weight="bold" font-size="8.8">2007 (%)</text>
<circle cx="463.1" cy="167.1" r="1.3" fill="#d3101c" stroke="#a00a14" stroke-width="0.5"/>
<text x="475.5" y="170.4" font-size="9.5" fill="#222" stroke="#222" stroke-width="0.22">-80 — 0</text>
<circle cx="463.1" cy="178.8" r="2.7" fill="#3ea80a" stroke="#2f5f14" stroke-width="0.5"/>
<text x="475.5" y="183.7" font-size="9.5" fill="#222" stroke="#222" stroke-width="0.22">1 — 50</text>
<circle cx="463.1" cy="190.7" r="4.0" fill="#3ea80a" stroke="#2f5f14" stroke-width="0.5"/>
<text x="475.5" y="196.5" font-size="9.5" fill="#222" stroke="#222" stroke-width="0.22">51 — 100</text>
<circle cx="463.1" cy="206.3" r="5.3" fill="#3ea80a" stroke="#2f5f14" stroke-width="0.5"/>
<text x="475.5" y="209.6" font-size="9.5" fill="#222" stroke="#222" stroke-width="0.22">101 — 300</text>
<circle cx="463.1" cy="219.6" r="6.6" fill="#3ea80a" stroke="#2f5f14" stroke-width="0.5"/>
<text x="475.5" y="223.3" font-size="9.5" fill="#222" stroke="#222" stroke-width="0.22">301 — 860</text>
</g>
<g font-family="Liberation Serif, serif" font-size="11.2" fill="#222" text-anchor="middle">
<text x="124.3" y="279">(<tspan font-weight="bold">a</tspan>)</text>
<text x="414.2" y="279">(<tspan font-weight="bold">b</tspan>)</text>
</g>
</svg>
</body></html>
